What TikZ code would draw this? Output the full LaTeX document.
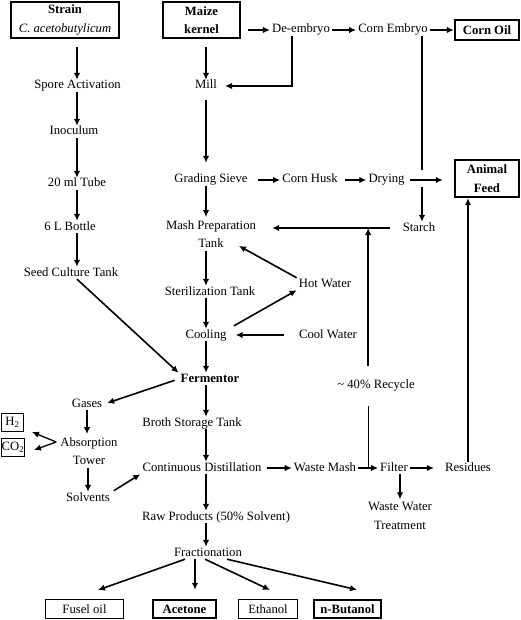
\documentclass[tikz,border=0pt]{standalone}
\usepackage{fontspec}
\setmainfont{Liberation Serif}
\usetikzlibrary{arrows.meta,calc}
\begin{document}
\begin{tikzpicture}[x=1pt,y=-1pt,
  every node/.style={font=\fontsize{12.7}{18.5}\selectfont},
  lbl/.style={inner xsep=2pt, inner ysep=0pt, text height=9pt, text depth=3pt},
  lbl2/.style={inner xsep=2pt, inner ysep=3pt, align=center},
  tbox/.style={draw, line width=2.4pt, inner sep=0pt, align=center},
  nbox/.style={draw, line width=1pt, inner sep=0pt, align=center},
  arr/.style={draw, line width=1.6pt, -{Latex[length=7pt,width=6.5pt]}},
  tarr/.style={draw, line width=1.3pt, -{Latex[length=7pt,width=6.5pt]}},
  ln/.style={draw, line width=1.3pt}
]
\useasboundingbox (0,0) rectangle (521,620);
\fill[white] (0,0) rectangle (521,620);

\coordinate (lc) at (77,0);
\coordinate (mc) at (206,0);
\coordinate (vx) at (422,0);

% boxes
\node[tbox, minimum width=108pt, minimum height=36pt] (strain) at (65,20) {\textbf{Strain}\\\textit{C. acetobutylicum}};
\node[tbox, minimum width=77pt, minimum height=36pt] (maize) at (201.5,20) {\textbf{Maize}\\\textbf{kernel}};
\node[tbox, minimum width=64pt, minimum height=20pt] (cornoil) at (487,30) {\textbf{Corn Oil}};
\node[tbox, minimum width=64pt, minimum height=37pt] (feed) at (487,178.5) {\textbf{Animal}\\\textbf{Feed}};
\node[nbox, minimum width=78pt, minimum height=19pt] (fusel) at (84.5,609) {Fusel oil};
\node[tbox, minimum width=63pt, minimum height=18pt] (acetone) at (184.5,609) {\textbf{Acetone}};
\node[nbox, minimum width=59pt, minimum height=19pt] (ethanol) at (268,609) {Ethanol};
\node[tbox, minimum width=67pt, minimum height=18pt] (butanol) at (347.5,609) {\textbf{n-Butanol}};
\node[nbox, minimum width=22pt, minimum height=18pt] (h2) at (12.5,422.5) {H\textsubscript{2}};
\node[nbox, minimum width=23pt, minimum height=18pt] (co2) at (13,447.5) {CO\textsubscript{2}};

% text nodes
\node[lbl] (spore) at (77.5,86) {Spore Activation};
\node[lbl] (mill) at (206,86) {Mill};
\node[lbl] (inoc) at (74,132) {Inoculum};
\node[lbl] (tube) at (77,184) {20 ml Tube};
\node[lbl] (bottle) at (70,227) {6 L Bottle};
\node[lbl] (seed) at (71,273) {Seed Culture Tank};
\node[lbl] (deemb) at (301,30) {De-embryo};
\node[lbl] (cemb) at (393,30) {Corn Embryo};
\node[lbl] (grading) at (211,180) {Grading Sieve};
\node[lbl] (husk) at (310,180) {Corn Husk};
\node[lbl] (drying) at (386.5,180) {Drying};
\node[lbl] (starch) at (419,228) {Starch};
\node[lbl2] (mash) at (211,234) {Mash Preparation\\Tank};
\node[lbl] (steril) at (210,292) {Sterilization Tank};
\node[lbl] (hot) at (325,284) {Hot Water};
\node[lbl] (cooling) at (206,335) {Cooling};
\node[lbl] (cool) at (328,335) {Cool Water};
\node[lbl] (ferm) at (210,379) {\textbf{Fermentor}};
\node[lbl] (gases) at (87,404) {Gases};
\node[lbl] (broth) at (192,423) {Broth Storage Tank};
\node[lbl2] (absorb) at (89,451) {Absorption\\Tower};
\node[lbl] (solv) at (88,498) {Solvents};
\node[lbl] (cdist) at (202,468) {Continuous Distillation};
\node[lbl] (wmash) at (325,468) {Waste Mash};
\node[lbl] (filter) at (394,468) {Filter};
\node[lbl] (resid) at (468,468) {Residues};
\node[lbl2] (wwater) at (400,516) {Waste Water\\Treatment};
\node[lbl] (recyc) at (376,385) {\textasciitilde\ 40\% Recycle};
\node[lbl, anchor=west] (raw) at (140,517) {Raw Products (50\% Solvent)};
\node[lbl] (frac) at (208,553) {Fractionation};

% left column
\draw[arr, shorten <=8pt] (strain.south -| lc) -- (spore.north -| lc);
\draw[arr] (spore.south -| lc) -- (inoc.north -| lc);
\draw[arr] (inoc.south -| lc) -- (tube.north -| lc);
\draw[arr] (tube.south -| lc) -- (bottle.north -| lc);
\draw[arr] (bottle.south -| lc) -- (seed.north -| lc);
\draw[arr] (seed.south -| lc) -- (ferm.north west);

% middle column
\draw[arr, shorten <=8pt] (maize.south -| mc) -- (mill.north -| mc);
\draw[arr, shorten <=8pt, shorten >=11pt] (mill.south -| mc) -- (grading.north -| mc);
\draw[arr] (grading.south -| mc) -- (mash.north -| mc);
\draw[arr] (mash.south -| mc) -- (steril.north -| mc);
\draw[arr] (steril.south -| mc) -- (cooling.north -| mc);
\draw[arr] (cooling.south -| mc) -- (ferm.north -| mc);
\draw[arr] (ferm.south -| mc) -- (broth.north -| mc);
\draw[arr] (broth.south -| mc) -- (cdist.north -| mc);
\draw[arr] (cdist.south -| mc) -- (raw.north -| mc);
\draw[arr] (raw.south -| mc) -- (frac.north -| mc);

% fractionation fan
\draw[arr] ($(frac.south)+(-23,0)$) -- ($(fusel.north)+(13.5,-9)$);
\draw[arr] ($(frac.south)+(-13,0)$) -- ($(acetone.north)+(10.5,-9)$);
\draw[arr] ($(frac.south)+(-3,0)$) -- ($(ethanol.north)+(2,-9)$);
\draw[arr] ($(frac.south)+(19,0)$) -- ($(butanol.north)+(9.5,-9)$);

% top right
\draw[arr, shorten <=7pt] (maize.east |- deemb) -- (deemb.west);
\draw[arr] (deemb.east) -- (cemb.west);
\draw[arr] (cemb.east) -- (cornoil.west);
\draw[tarr, shorten >=6pt] ($(deemb.south)+(-9,0)$) |- (mill.east);
\draw[ln, shorten >=10pt] (cemb.south -| vx) -- (drying -| vx);
\draw[arr, shorten <=7pt] (drying -| vx) -- (starch.north -| vx);
\draw[arr, shorten <=8pt] (grading.east) -- (husk.west);
\draw[arr, shorten <=5pt] (husk.east) -- (drying.west);
\draw[arr, shorten <=3pt, shorten >=11pt] (drying.east) -- (drying.east -| feed.west);
\draw[arr, shorten <=11pt, shorten >=14pt] (starch.west) -- (starch.west -| mash.east);

% recycle
\coordinate (rc) at ($(wmash.east)!0.5!(filter.west)$);
\draw[ln, shorten >=15pt] (rc) -- (rc |- recyc.south);
\draw[arr, shorten <=13pt] (rc |- recyc.north) -- (rc |- starch);

% water loop
\draw[arr] (hot.north west) -- ($(mash.south)+(28,-5)$);
\draw[arr, shorten <=6pt] (cooling.north east) -- (hot.south west);
\draw[arr, shorten <=13pt, shorten >=7pt] (cool.west) -- (cooling.east);

% gases
\draw[arr, shorten <=4pt, shorten >=3pt] (ferm.west) -- (gases.east);
\draw[arr] (gases.south) -- (gases.south |- absorb.north);
\draw[arr] (solv.north |- absorb.south) -- (solv.north);
\draw[arr, shorten <=2pt] (solv.north east) -- (cdist.south west);
\coordinate (av) at ($(absorb.west)+(-2,-9)$);
\draw[tarr] (av) -- ($(h2.east)+(8,9.5)$);
\draw[tarr] (av) -- ($(co2.east)+(9,2.5)$);

% waste
\draw[arr, shorten <=3pt] (cdist.east) -- (wmash.west);
\draw[arr] (wmash.east) -- (filter.west);
\draw[arr, shorten >=9pt] (filter.east) -- (resid.west);
\draw[arr] (resid.north) -- (resid.north |- feed.south);
\draw[arr] (wwater.north |- filter.south) -- (wwater.north);
\end{tikzpicture}
\end{document}
